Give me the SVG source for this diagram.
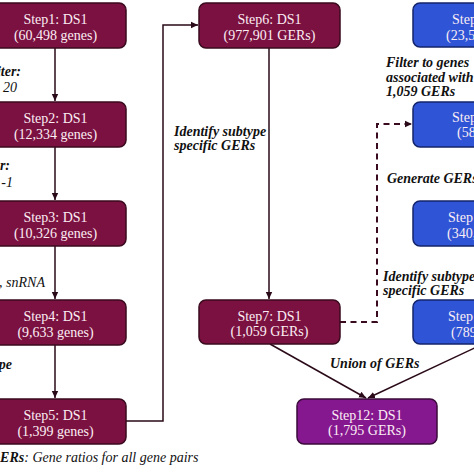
<svg xmlns="http://www.w3.org/2000/svg" width="474" height="474" viewBox="0 0 474 474">
<style>
.m{fill:#7b1140;stroke:#3a0a1e;stroke-width:1.5}
.b{fill:#2f55d6;stroke:#15246a;stroke-width:1.5}
.p{fill:#86188f;stroke:#3a0a3a;stroke-width:1.5}
.t{font-family:"Liberation Serif",serif;font-size:14px;fill:#fbeef4;text-anchor:middle}
.ts{font-family:"Liberation Serif",serif;font-size:14px;fill:#fbeef4}
.l{font-family:"Liberation Serif",serif;font-size:14px;font-weight:bold;font-style:italic;fill:#111}
.i{font-family:"Liberation Serif",serif;font-size:14px;font-style:italic;fill:#111}
.c{fill:none;stroke:#2a0a18;stroke-width:1.5}
.d{fill:none;stroke:#3a0a1e;stroke-width:2;stroke-dasharray:6 4.5}
</style>
<defs>
<marker id="ah" markerUnits="userSpaceOnUse" markerWidth="8" markerHeight="8" refX="7" refY="4" orient="auto">
<path d="M0,0.8 L7,4 L0,7.2 z" fill="#2a0a18"/>
</marker>
</defs>
<g id="connectors">
<path class="c" d="M55,48 V101" marker-end="url(#ah)"/>
<path class="c" d="M55,147 V200" marker-end="url(#ah)"/>
<path class="c" d="M55,246 V299" marker-end="url(#ah)"/>
<path class="c" d="M55,345 V398" marker-end="url(#ah)"/>
<path class="c" d="M126,421 H163 V25 H198" marker-end="url(#ah)"/>
<path class="c" d="M269,48 V299" marker-end="url(#ah)"/>
<path class="d" d="M340,322 H377 V124 H412" marker-end="url(#ah)"/>
<path class="c" d="M270,344 L366,398" marker-end="url(#ah)"/>
<path class="c" d="M483,344 L368,398" marker-end="url(#ah)"/>
</g>
<g id="step1"><rect class="m" x="-15" y="3" width="141" height="45" rx="7"/><text class="t" x="55.5" y="24">Step1: DS1</text><text class="t" x="55.5" y="40">(60,498 genes)</text></g>
<g id="step2"><rect class="m" x="-15" y="102" width="141" height="45" rx="7"/><text class="t" x="55.5" y="123">Step2: DS1</text><text class="t" x="55.5" y="139">(12,334 genes)</text></g>
<g id="step3"><rect class="m" x="-15" y="201" width="141" height="45" rx="7"/><text class="t" x="55.5" y="222">Step3: DS1</text><text class="t" x="55.5" y="238">(10,326 genes)</text></g>
<g id="step4"><rect class="m" x="-15" y="300" width="141" height="45" rx="7"/><text class="t" x="55.5" y="321">Step4: DS1</text><text class="t" x="55.5" y="337">(9,633 genes)</text></g>
<g id="step5"><rect class="m" x="-15" y="399" width="141" height="45" rx="7"/><text class="t" x="55.5" y="420">Step5: DS1</text><text class="t" x="55.5" y="436">(1,399 genes)</text></g>
<g id="step6"><rect class="m" x="199" y="3" width="141" height="45" rx="7"/><text class="t" x="269.5" y="24">Step6: DS1</text><text class="t" x="269.5" y="40">(977,901 GERs)</text></g>
<g id="step7"><rect class="m" x="199" y="300" width="141" height="44" rx="7"/><text class="t" x="269.5" y="321">Step7: DS1</text><text class="t" x="269.5" y="336">(1,059 GERs)</text></g>
<g id="step12"><rect class="p" x="297" y="399" width="140" height="45" rx="7"/><text class="t" x="367" y="420">Step12: DS1</text><text class="t" x="367" y="435">(1,795 GERs)</text></g>
<g id="boxA"><rect class="b" x="413" y="3" width="141" height="44" rx="7"/><text class="ts" x="452" y="24">Step</text><text class="ts" x="446" y="40">(23,52</text></g>
<g id="boxB"><rect class="b" x="413" y="102" width="141" height="45" rx="7"/><text class="ts" x="452" y="122">Step</text><text class="ts" x="457" y="137">(584</text></g>
<g id="boxC"><rect class="b" x="413" y="201" width="141" height="45" rx="7"/><text class="ts" x="448" y="222">Step</text><text class="ts" x="447" y="238">(340,4</text></g>
<g id="boxD"><rect class="b" x="413" y="300" width="141" height="44" rx="7"/><text class="ts" x="448" y="321">Step</text><text class="ts" x="451" y="337">(789</text></g>
<g id="labels">
<text class="l" x="21" y="76" text-anchor="end">iter:</text>
<text class="i" x="17" y="92" text-anchor="end">20</text>
<text class="l" x="10" y="170" text-anchor="end">r:</text>
<text class="i" x="13" y="187" text-anchor="end">-1</text>
<text class="i" x="45" y="287" text-anchor="end">, snRNA</text>
<text class="l" x="12" y="369" text-anchor="end">pe</text>
<text class="l" x="174" y="136">Identify subtype</text>
<text class="l" x="174" y="150">specific GERs</text>
<text class="l" x="386" y="67">Filter to genes</text>
<text class="l" x="386" y="82">associated with</text>
<text class="l" x="386" y="96">1,059 GERs</text>
<text class="l" x="387" y="183">Generate GERs</text>
<text class="l" x="383" y="281">Identify subtype</text>
<text class="l" x="383" y="295">specific GERs</text>
<text class="l" x="330" y="368">Union of GERs</text>
<text x="-10" y="462" class="i"><tspan font-weight="bold">GERs</tspan>: Gene ratios for all gene pairs</text>
</g>
</svg>
